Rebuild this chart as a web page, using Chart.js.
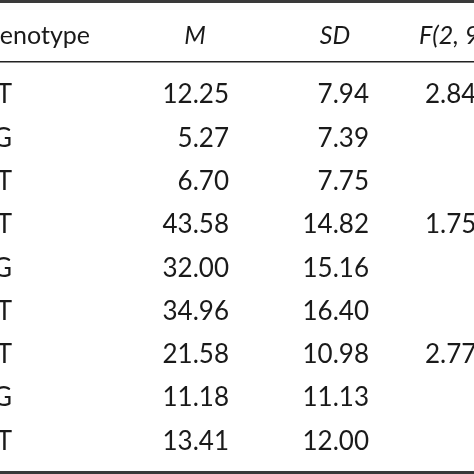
<!DOCTYPE html>
<html>
<head>
<meta charset="utf-8">
<script src="https://cdn.jsdelivr.net/npm/chart.js@4"></script>
<style>
  html, body { margin: 0; padding: 0; background: #fff; }
  #wrap { width: 474px; height: 474px; position: relative; }
</style>
</head>
<body>
<div id="wrap"><canvas id="c"></canvas></div>
<script>
// table content
const headers = ['Genotype', 'M', 'SD', 'F(2, 97)'];
const genotypes = ['TT', 'GG', 'GT', 'TT', 'GG', 'GT', 'TT', 'GG', 'GT'];
const means = ['12.25', '5.27', '6.70', '43.58', '32.00', '34.96', '21.58', '11.18', '13.41'];
const sds = ['7.94', '7.39', '7.75', '14.82', '15.16', '16.40', '10.98', '11.13', '12.00'];
const fvals = ['2.84', '', '', '1.75', '', '', '2.77', '', ''];

// row centres in table units (y axis runs 0..474 top to bottom)
const rowY = genotypes.map((_, i) => 95 + i * 43.3);

const FONT = '"Lato", "Open Sans", sans-serif';

const tablePlugin = {
  id: 'tableText',
  afterDraw(chart) {
    const ctx = chart.ctx;
    const xs = chart.scales.x, ys = chart.scales.y;
    const px = v => xs.getPixelForValue(v), py = v => ys.getPixelForValue(v);
    ctx.save();
    // rules
    ctx.fillStyle = '#3a3a3a';
    ctx.fillRect(px(0), py(0), px(474) - px(0), 3);
    ctx.fillRect(px(0), py(471), px(474) - px(0), 3);
    ctx.fillStyle = '#222';
    ctx.fillRect(px(0), py(61), px(474) - px(0), 1.5);

    ctx.fillStyle = '#1a1a1a';
    ctx.textBaseline = 'middle';
    // header
    ctx.font = '25px ' + FONT;
    ctx.textAlign = 'left';
    const gW = ctx.measureText('G').width;
    ctx.fillText(headers[0], px(0) - gW, py(36));
    ctx.font = 'italic 25px ' + FONT;
    ctx.textAlign = 'center';
    ctx.fillText(headers[1], px(195), py(36));
    ctx.fillText(headers[2], px(335), py(36));
    ctx.textAlign = 'left';
    ctx.fillText(headers[3], px(419), py(36));

    // body
    ctx.font = '26px ' + FONT;
    genotypes.forEach((g, i) => {
      const y = py(rowY[i]);
      ctx.textAlign = 'right';
      ctx.fillText(g, px(12), y);
      ctx.fillText(means[i], px(229), y);
      ctx.fillText(sds[i], px(369), y);
      ctx.textAlign = 'left';
      if (fvals[i]) ctx.fillText(fvals[i], px(425), y);
    });
    ctx.restore();
  }
};

new Chart(document.getElementById('c'), {
  type: 'scatter',
  data: { datasets: [{ data: rowY.map(y => ({ x: 0, y })), pointRadius: 0 }] },
  options: {
    responsive: true,
    maintainAspectRatio: false,
    animation: false,
    layout: { padding: 0 },
    plugins: { legend: { display: false }, tooltip: { enabled: false } },
    scales: {
      x: { type: 'linear', min: 0, max: 474, display: false },
      y: { type: 'linear', min: 0, max: 474, reverse: true, display: false }
    }
  },
  plugins: [tablePlugin]
});
</script>
</body>
</html>
